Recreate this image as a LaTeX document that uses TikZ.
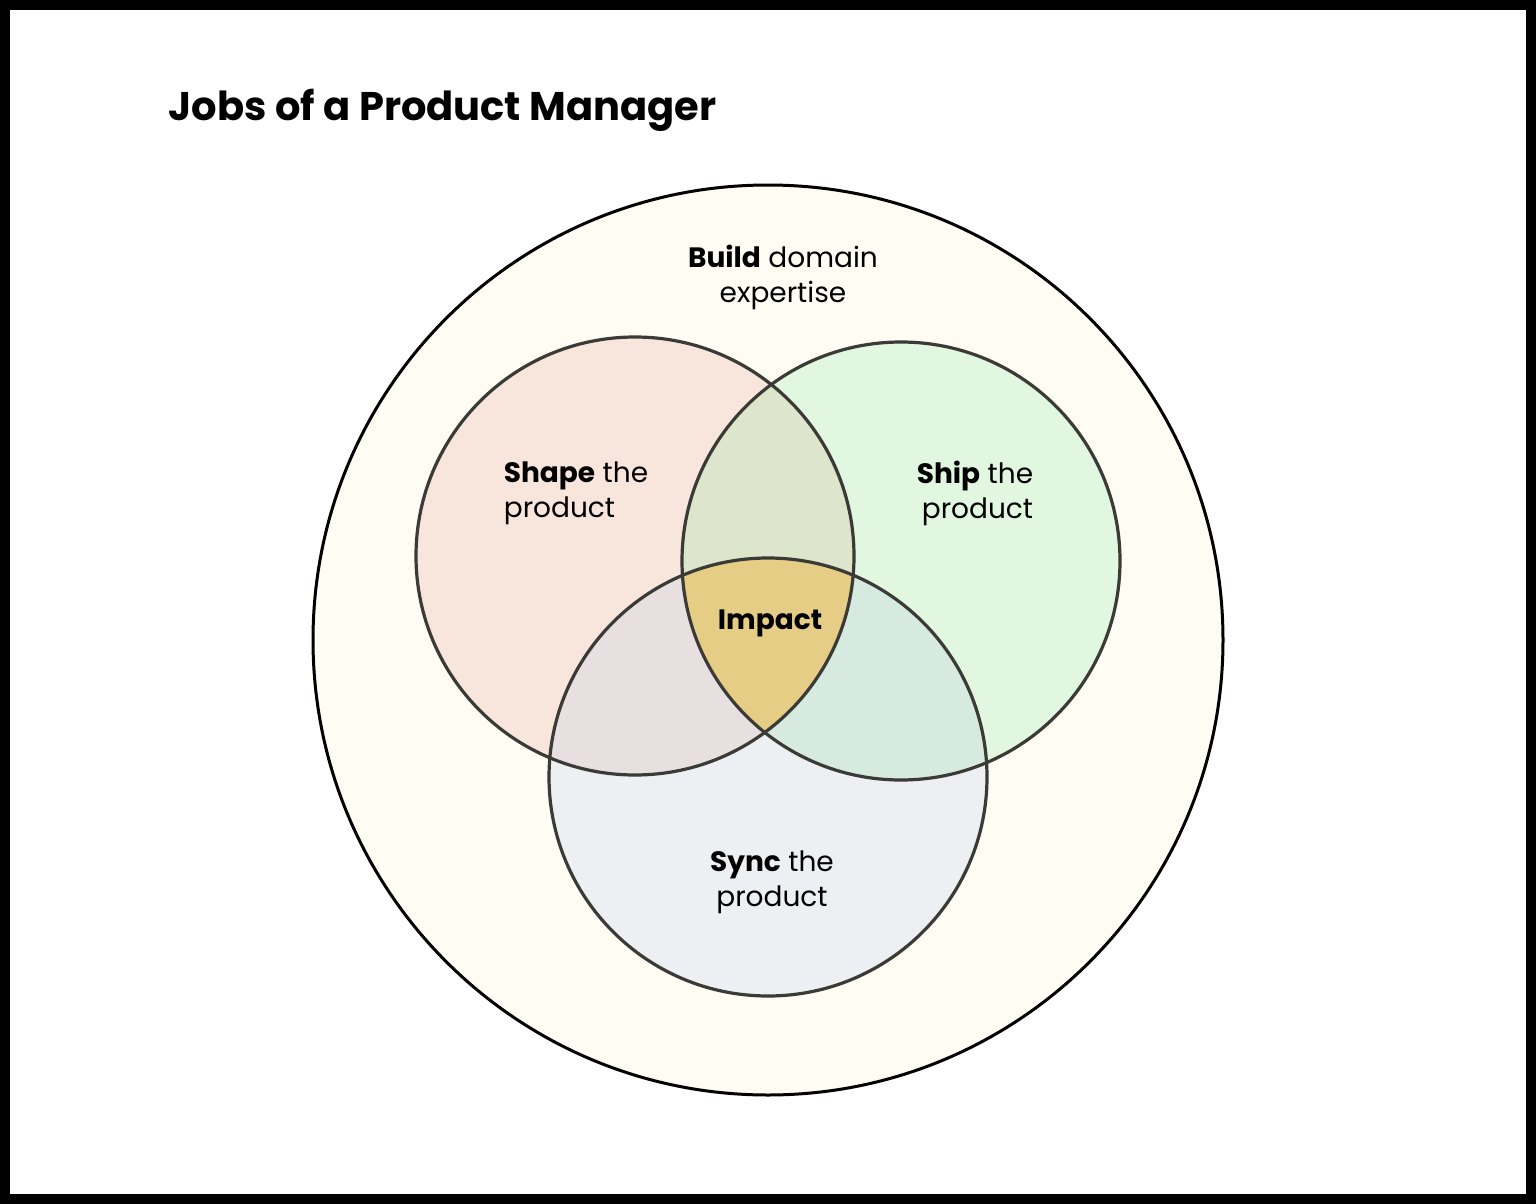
\documentclass[tikz,border=0pt]{standalone}
\usepackage{fontspec}
\setmainfont{Poppins}
\definecolor{outerf}{HTML}{FFFCF3}
\definecolor{shapef}{HTML}{F8E6DC}
\definecolor{shipf}{HTML}{E1F7DF}
\definecolor{syncf}{HTML}{EEEFF3}
\definecolor{shsh}{HTML}{DDE5CC}
\definecolor{shsy}{HTML}{E8DFE0}
\definecolor{shipsy}{HTML}{D7EADF}
\definecolor{core}{HTML}{E6CD85}
\definecolor{ring}{HTML}{3A3A36}
\begin{document}
\begin{tikzpicture}[x=1pt,y=-1pt,
  lbl/.style={font=\fontsize{28}{35}\selectfont, align=center, text=black},
  venn/.style={draw=ring, line width=3.2pt}]
\useasboundingbox (0,0) rectangle (1536,1204);
\fill[black] (0,0) rectangle (1536,1204);
\fill[white] (10,10) rectangle (1526,1194);
\node[anchor=base west, font=\fontsize{40}{48}\selectfont\bfseries] (title) at (165,121) {Jobs of a Product Manager};
\filldraw[fill=outerf, draw=black, line width=3pt] (768,640) circle (455);
\coordinate (cA) at (635,556);
\coordinate (cB) at (901,561);
\coordinate (cC) at (768,777);
\fill[shapef] (cA) circle (219);
\fill[shipf] (cB) circle (219);
\fill[syncf] (cC) circle (219);
\begin{scope}\clip (cA) circle (219); \fill[shsh] (cB) circle (219);\end{scope}
\begin{scope}\clip (cA) circle (219); \fill[shsy] (cC) circle (219);\end{scope}
\begin{scope}\clip (cB) circle (219); \fill[shipsy] (cC) circle (219);\end{scope}
\begin{scope}\clip (cA) circle (219); \clip (cB) circle (219); \fill[core] (cC) circle (219);\end{scope}
\draw[venn] (cA) circle (219);
\draw[venn] (cB) circle (219);
\draw[venn] (cC) circle (219);
\node[lbl] (build) at (783,277) {\textbf{Build} domain\\expertise};
\node[lbl, align=left] (shape) at (576,493) {\textbf{Shape} the\\product};
\node[lbl, align=right] (ship) at (975,493) {\textbf{Ship} the\\product};
\node[lbl] (sync) at (772,882) {\textbf{Sync} the\\product};
\node[lbl] (impact) at (770,623) {\textbf{Impact}};
\end{tikzpicture}
\end{document}
